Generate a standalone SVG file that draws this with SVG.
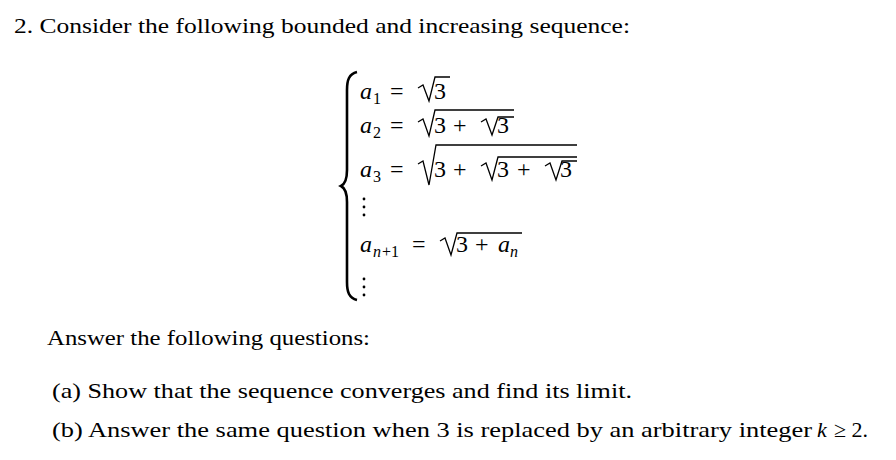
<svg xmlns="http://www.w3.org/2000/svg" width="896" height="460" viewBox="0 0 896 460">
<style>
text{font-family:"Liberation Serif","DejaVu Serif",serif;fill:#000}
.t{font-size:22px}
.m{font-size:24px}
.i{font-style:italic}
.s{font-size:16px}
.r{fill:none;stroke:#000;stroke-width:1.3}
</style>
<rect width="896" height="460" fill="#fff"/>
<text class="t" x="14" y="33" textLength="616" lengthAdjust="spacingAndGlyphs">2. Consider the following bounded and increasing sequence:</text>
<path d="M357,72 C349,74 347,80 347,90 L347,170 C347,180 345,184 341,186 C345,188 347,192 347,202 L347,282 C347,292 349,298 357,300" fill="none" stroke="#000" stroke-width="2.6"/>
<g id="row1">
<text class="m i" x="360" y="99">a</text><text class="s" x="373" y="104">1</text>
<text class="m" x="390" y="99">=</text>
<path class="r" d="M418,88 L423,85 L429,101 L435,77 L450,77"/>
<text class="m" x="434" y="99">3</text>
</g>
<g id="row2">
<text class="m i" x="360" y="133">a</text><text class="s" x="373" y="138">2</text>
<text class="m" x="390" y="133">=</text>
<path class="r" d="M418,122 L423,119 L429,136 L435,110 L514,110"/>
<text class="m" x="434" y="133">3</text>
<text class="m" x="453" y="133">+</text>
<path class="r" d="M481,122 L486,119 L492,135 L498,117 L514,117"/>
<text class="m" x="497" y="133">3</text>
</g>
<g id="row3">
<text class="m i" x="360" y="177">a</text><text class="s" x="373" y="182">3</text>
<text class="m" x="390" y="177">=</text>
<path class="r" d="M418,164 L423,161 L429,185 L436,145 L577,145"/>
<text class="m" x="434" y="177">3</text>
<text class="m" x="453" y="177">+</text>
<path class="r" d="M481,166 L486,163 L492,180 L498,157 L577,157"/>
<text class="m" x="497" y="177">3</text>
<text class="m" x="517" y="177">+</text>
<path class="r" d="M545,166 L550,163 L556,180 L562,161 L577,161"/>
<text class="m" x="560" y="177">3</text>
</g>
<g id="dots1"><circle cx="364" cy="199" r="1.4"/><circle cx="364" cy="207" r="1.4"/><circle cx="364" cy="215" r="1.4"/></g>
<g id="row4">
<text class="m i" x="360" y="252">a</text><text class="s i" x="373" y="257">n</text><text class="s" x="382" y="257">+1</text>
<text class="m" x="412" y="252">=</text>
<path class="r" d="M440,241 L445,238 L451,255 L457,233 L522,233"/>
<text class="m" x="456" y="252">3</text>
<text class="m" x="475" y="252">+</text>
<text class="m i" x="498" y="252">a</text><text class="s i" x="510" y="257">n</text>
</g>
<g id="dots2"><circle cx="364" cy="279" r="1.4"/><circle cx="364" cy="287" r="1.4"/><circle cx="364" cy="295" r="1.4"/></g>
<text class="t" x="47" y="345" textLength="323" lengthAdjust="spacingAndGlyphs">Answer the following questions:</text>
<text class="t" x="52" y="398" textLength="580" lengthAdjust="spacingAndGlyphs">(a) Show that the sequence converges and find its limit.</text>
<text class="t" x="52" y="437" textLength="760" lengthAdjust="spacingAndGlyphs">(b) Answer the same question when 3 is replaced by an arbitrary integer</text>
<text class="t i" x="817" y="437">k</text>
<text class="t" x="834" y="437">≥ 2.</text>
</svg>
